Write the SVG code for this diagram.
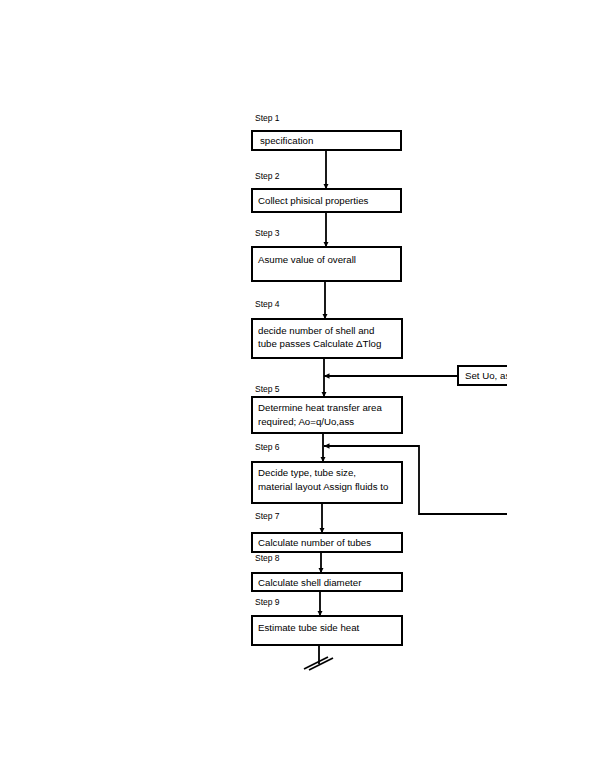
<svg xmlns="http://www.w3.org/2000/svg" width="600" height="776" viewBox="0 0 600 776">
<style>
.box{fill:#fff;stroke:#000;stroke-width:2}
.t{font-family:"Liberation Sans","Open Sans",sans-serif;font-size:9.7px;fill:#000}
.s{font-family:"Liberation Sans","Open Sans",sans-serif;font-size:8.5px;fill:#000}
.c{fill:none;stroke:#000;stroke-width:1.8}
</style>
<defs>
<marker id="ah" viewBox="0 0 10 10" refX="10" refY="5" markerWidth="5.5" markerHeight="5.5" orient="auto" markerUnits="userSpaceOnUse">
<path d="M0,0 L10,5 L0,10 Z" fill="#000"/>
</marker>
<clipPath id="page"><rect x="0" y="0" width="507" height="776"/></clipPath>
</defs>
<rect width="600" height="776" fill="#fff"/>
<g clip-path="url(#page)">
<g id="connectors">
<line class="c" x1="326" y1="150" x2="326" y2="189" marker-end="url(#ah)"/>
<line class="c" x1="326" y1="212" x2="326" y2="247" marker-end="url(#ah)"/>
<line class="c" x1="325" y1="281" x2="325" y2="319" marker-end="url(#ah)"/>
<line class="c" x1="324" y1="358" x2="324" y2="397" marker-end="url(#ah)"/>
<line class="c" x1="458" y1="376" x2="324" y2="376" marker-end="url(#ah)"/>
<line class="c" x1="323" y1="433" x2="323" y2="462" marker-end="url(#ah)"/>
<polyline class="c" points="510,514 419,514 419,446 324,446" marker-end="url(#ah)"/>
<line class="c" x1="322" y1="503" x2="322" y2="533" marker-end="url(#ah)"/>
<line class="c" x1="321" y1="552" x2="321" y2="573" marker-end="url(#ah)"/>
<line class="c" x1="320" y1="591" x2="320" y2="616" marker-end="url(#ah)"/>
<line class="c" x1="319" y1="645" x2="319" y2="664" stroke-width="1"/>
<line class="c" x1="304" y1="669" x2="328" y2="657" stroke-width="1"/>
<line class="c" x1="309" y1="670" x2="333" y2="658" stroke-width="1"/>
</g>
<g id="step1">
<text class="s" x="255" y="121">Step 1</text>
<rect class="box" x="252" y="131" width="149" height="19"/>
<text class="t" x="260" y="144">specification</text>
</g>
<g id="step2">
<text class="s" x="255" y="179">Step 2</text>
<rect class="box" x="252" y="189" width="149" height="23"/>
<text class="t" x="258" y="204">Collect phisical properties</text>
</g>
<g id="step3">
<text class="s" x="255" y="236">Step 3</text>
<rect class="box" x="252" y="247" width="149" height="34"/>
<text class="t" x="258" y="263">Asume value of overall</text>
</g>
<g id="step4">
<text class="s" x="255" y="307">Step 4</text>
<rect class="box" x="252" y="319" width="150" height="39"/>
<text class="t" x="258" y="334">decide number of shell and</text>
<text class="t" x="258" y="347">tube passes Calculate ΔTlog</text>
</g>
<g id="setUo">
<rect class="box" x="458" y="366" width="60" height="19"/>
<text class="t" x="465" y="379">Set Uo, as</text>
</g>
<g id="step5">
<text class="s" x="255" y="392">Step 5</text>
<rect class="box" x="252" y="397" width="150" height="36"/>
<text class="t" x="258" y="411">Determine heat transfer area</text>
<text class="t" x="258" y="425">required; Ao=q/Uo,ass</text>
</g>
<g id="step6">
<text class="s" x="255" y="450">Step 6</text>
<rect class="box" x="252" y="462" width="150" height="41"/>
<text class="t" x="258" y="476">Decide type, tube size,</text>
<text class="t" x="258" y="490">material layout Assign fluids to</text>
</g>
<g id="step7">
<text class="s" x="255" y="519">Step 7</text>
<rect class="box" x="252" y="533" width="150" height="19"/>
<text class="t" x="258" y="546">Calculate number of tubes</text>
</g>
<g id="step8">
<text class="s" x="255" y="561">Step 8</text>
<rect class="box" x="252" y="573" width="150" height="18"/>
<text class="t" x="258" y="586">Calculate shell diameter</text>
</g>
<g id="step9">
<text class="s" x="255" y="605">Step 9</text>
<rect class="box" x="252" y="616" width="150" height="29"/>
<text class="t" x="258" y="631">Estimate tube side heat</text>
</g>
</g>
</svg>
